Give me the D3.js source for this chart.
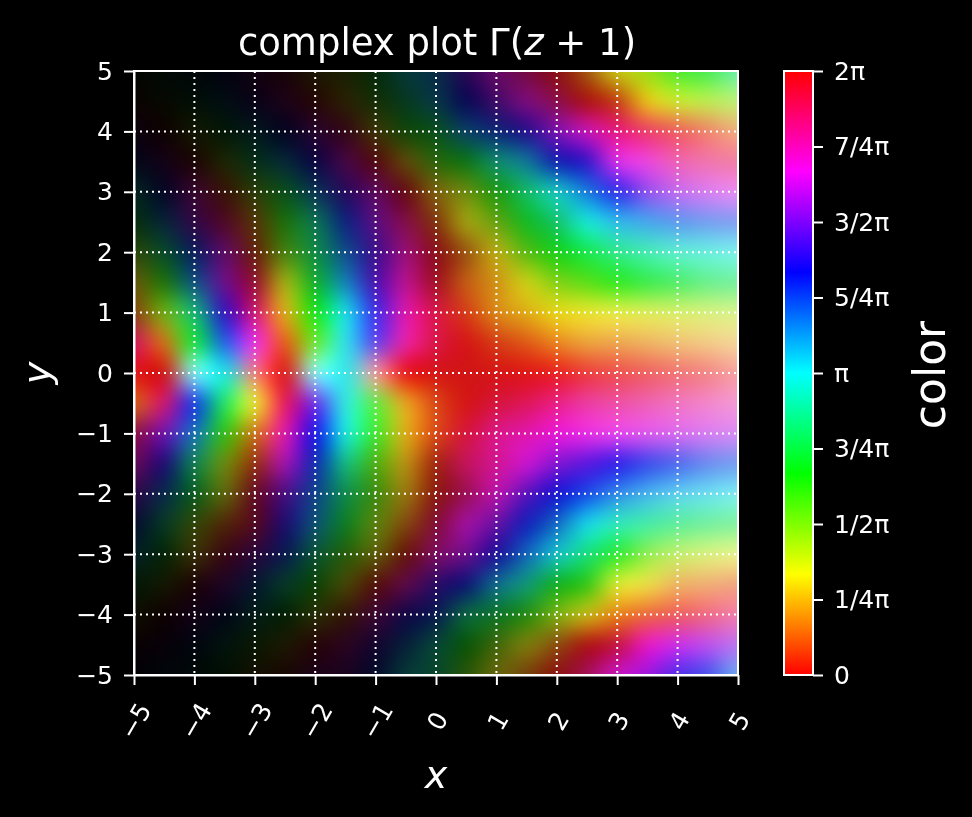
<!DOCTYPE html>
<html lang="en">
	<head>
		<meta charset="UTF-8">
		<title>complex plot</title>
		<style>
			html, body { margin: 0; background: #000; }
			#wrap { position: relative; width: 972px; height: 817px; overflow: hidden; }
			canvas, svg { position: absolute; left: 0; top: 0; }
			text { font-family: "DejaVu Sans", sans-serif; fill: #fff; }
		</style>
	</head>
	<body>
		<div id="wrap">
			<canvas id="field" width="972" height="817"></canvas>
			<svg id="svg" width="972" height="817"></svg>
		</div>

		<script src="https://d3js.org/d3.v7.min.js"></script>
		<script>
			// cell centres, one per half unit
			const xValues = [-5,-4.5,-4,-3.5,-3,-2.5,-2,-1.5,-1,-0.5,0,0.5,1,1.5,2,2.5,3,3.5,4,4.5,5]
			const yValues = [5,4.5,4,3.5,3,2.5,2,1.5,1,0.5,0,-0.5,-1,-1.5,-2,-2.5,-3,-3.5,-4,-4.5,-5]
			const axisTicks = [-5,-4,-3,-2,-1,0,1,2,3,4,5]

			// phase of each cell in degrees, top row first
			const hueRows = [
				[110,160,200,240,310,350,50,75,130,180,205,265,300,330,0,30,60,80,110,125,150],
				[15,75,135,200,260,310,5,45,100,150,195,240,275,300,330,0,15,50,70,78,85],
				[300,0,75,130,190,240,290,340,50,110,135,205,225,250,280,305,330,345,0,12,25],
				[230,290,5,75,145,200,245,300,355,45,100,125,165,195,235,250,295,305,325,332,340],
				[170,235,310,15,80,135,205,260,300,355,45,75,115,150,178,210,240,265,280,288,295],
				[130,205,280,335,35,110,160,228,280,330,20,60,85,125,150,175,195,205,215,220,225],
				[85,150,225,295,15,90,145,210,262,315,355,30,55,95,120,135,150,160,168,173,178],
				[50,110,205,285,345,65,130,200,262,315,352,25,40,62,85,100,115,125,130,135,140],
				[25,85,155,250,330,45,120,183,245,315,345,12,35,45,55,58,62,66,70,73,75],
				[335,30,130,220,300,20,100,183,250,320,345,0,12,20,30,35,33,35,37,38,40],
				[0,0,180,180,0,0,180,180,0,0,0,0,0,0,0,0,0,0,0,0,0],
				[25,330,230,140,60,340,260,177,110,40,15,0,348,340,330,325,327,325,323,322,320],
				[335,275,205,110,30,315,240,177,115,45,15,348,325,315,305,302,298,294,290,287,285],
				[310,250,155,75,15,295,230,160,98,45,8,335,320,298,275,260,245,235,230,225,220],
				[275,210,135,65,345,270,215,150,98,45,5,330,305,265,240,225,210,200,192,187,182],
				[230,155,80,25,342,250,200,132,80,30,340,300,275,235,210,185,165,155,145,140,135],
				[190,125,50,345,280,225,155,100,60,5,315,285,245,210,182,150,120,95,80,72,65],
				[130,70,355,285,215,160,115,60,5,315,260,235,195,165,125,110,65,55,35,28,20],
				[60,0,285,230,170,120,70,20,310,250,225,155,135,110,80,55,30,15,0,348,335],
				[345,285,225,160,100,50,355,315,260,210,165,120,85,60,30,0,345,310,290,282,275],
				[250,200,160,120,50,10,310,285,230,180,155,95,60,30,0,330,300,280,250,235,210]
			]

			// lightness of each cell in percent, same order
			const lightRows = [
				[1,2,2,3,4,5,6,7,9,12,15,18,22,25,30,35,43,48,55,60,68],
				[2,2,3,4,5,6,8,9,10,12,15,18,22,27,30,37,42,50,55,62,70],
				[3,3,5,5,6,7,10,11,13,15,17,22,25,30,38,43,50,58,65,68,72],
				[5,5,6,8,10,12,14,15,18,20,22,25,30,33,38,43,55,60,66,70,72],
				[8,8,12,12,13,17,18,20,20,22,27,30,33,40,43,48,55,62,68,72,75],
				[10,12,15,17,18,24,25,27,28,28,28,35,35,40,42,50,55,60,65,70,73],
				[15,16,20,22,22,28,30,30,30,33,30,33,40,40,45,50,55,60,65,68,72],
				[22,25,28,30,32,38,38,40,38,40,35,42,45,45,45,48,52,58,62,68,70],
				[30,38,40,42,45,48,50,50,55,48,47,46,47,48,50,55,60,64,68,72,75],
				[45,45,50,52,55,50,55,55,60,52,47,46,46,48,52,58,62,66,70,74,78],
				[48,45,72,50,72,48,74,55,78,50,46,45,46,48,52,58,62,66,70,74,80],
				[45,45,50,52,55,50,55,55,60,52,47,46,46,48,52,58,62,66,70,74,78],
				[30,38,40,42,45,48,50,50,55,48,47,46,47,48,50,55,60,64,68,72,75],
				[22,25,28,30,32,38,38,40,38,40,35,42,45,45,45,48,52,58,62,68,70],
				[15,16,20,22,22,28,30,30,30,33,30,33,40,40,45,50,55,60,65,68,72],
				[10,12,15,17,18,24,25,27,28,28,28,35,35,40,42,50,55,60,65,70,73],
				[8,8,12,12,13,17,18,20,20,22,27,30,33,40,43,48,55,62,68,72,75],
				[5,5,6,8,10,12,14,15,18,20,22,25,30,33,38,43,55,60,66,70,72],
				[3,3,5,5,6,7,10,11,13,15,17,22,25,30,38,43,50,58,65,68,72],
				[2,2,3,4,5,6,8,9,10,12,15,18,22,27,30,37,42,50,55,62,70],
				[1,2,2,3,4,5,6,7,9,12,15,18,22,25,30,35,43,48,55,60,68]
			]

			// colorbar
			const barHues = [0,60,120,180,240,300,360]
			const barTicks = [0,0.25,0.5,0.75,1,1.25,1.5,1.75,2]
			const barLabels = ['0','1/4π','1/2π','3/4π','π','5/4π','3/2π','7/4π','2π']

			const x = d3.scaleLinear().domain([-5, 5]).range([134, 738])
			const y = d3.scaleLinear().domain([-5, 5]).range([675, 71])
			const barY = d3.scaleLinear().domain([0, 2]).range([675, 71])
			const barHue = d3.scaleLinear().domain([0, 360]).range([0, 1])
			const half = (xValues[1] - xValues[0]) / 2

			// small bitmap with one pixel per cell, the browser smooths it when it is scaled up
			const small = document.createElement('canvas')
			small.width = xValues.length
			small.height = yValues.length
			const smallCtx = small.getContext('2d')
			const pixels = smallCtx.createImageData(small.width, small.height)
			yValues.forEach((_, j) => {
				xValues.forEach((_, i) => {
					const c = d3.rgb(d3.hsl(hueRows[j][i], 0.82, lightRows[j][i] / 100))
					const k = (j * small.width + i) * 4
					pixels.data[k] = c.r
					pixels.data[k + 1] = c.g
					pixels.data[k + 2] = c.b
					pixels.data[k + 3] = 255
				})
			})
			smallCtx.putImageData(pixels, 0, 0)

			const ctx = document.getElementById('field').getContext('2d')
			ctx.save()
			ctx.beginPath()
			ctx.rect(x(-5), y(5), x(5) - x(-5), y(-5) - y(5))
			ctx.clip()
			ctx.imageSmoothingEnabled = true
			ctx.imageSmoothingQuality = 'high'
			ctx.drawImage(small, x(-5 - half), y(5 + half), x(5 + half) - x(-5 - half), y(-5 - half) - y(5 + half))
			ctx.restore()

			const svg = d3.select('#svg')

			// grid
			svg.append('g').selectAll('line')
				.data(axisTicks)
				.enter()
				.append('line')
				.attr('x1', d => x(d))
				.attr('x2', d => x(d))
				.attr('y1', y(5))
				.attr('y2', y(-5))
				.attr('stroke', '#fff')
				.attr('stroke-width', 2)
				.attr('stroke-dasharray', '2 4')
			svg.append('g').selectAll('line')
				.data(axisTicks)
				.enter()
				.append('line')
				.attr('x1', x(-5))
				.attr('x2', x(5))
				.attr('y1', d => y(d))
				.attr('y2', d => y(d))
				.attr('stroke', '#fff')
				.attr('stroke-width', 2)
				.attr('stroke-dasharray', '2 4')

			// axes
			const xAxis = svg.append('g')
				.attr('transform', `translate(0,${y(-5)})`)
				.call(d3.axisBottom(x).tickValues(axisTicks).tickSize(10).tickSizeOuter(0))
			xAxis.selectAll('text')
				.attr('x', null)
				.attr('y', null)
				.attr('dy', '0.35em')
				.attr('text-anchor', 'middle')
				.attr('transform', 'translate(1,46) rotate(-60)')

			const yAxis = svg.append('g')
				.attr('transform', `translate(${x(-5)},0)`)
				.call(d3.axisLeft(y).tickValues(axisTicks).tickSize(10).tickSizeOuter(0))
			yAxis.selectAll('text').attr('x', -21)

			svg.append('rect')
				.attr('x', x(-5))
				.attr('y', y(5))
				.attr('width', x(5) - x(-5))
				.attr('height', y(-5) - y(5))
				.attr('fill', 'none')
				.attr('stroke', '#fff')
				.attr('stroke-width', 2)

			// colorbar
			const grad = svg.append('defs').append('linearGradient')
				.attr('id', 'hues')
				.attr('x1', 0).attr('x2', 0).attr('y1', 1).attr('y2', 0)
			grad.selectAll('stop')
				.data(barHues)
				.enter()
				.append('stop')
				.attr('offset', d => barHue(d))
				.attr('stop-color', d => d3.hsl(d, 1, 0.5))
			svg.append('rect')
				.attr('x', 784)
				.attr('y', barY(2))
				.attr('width', 29)
				.attr('height', barY(0) - barY(2))
				.attr('fill', 'url(#hues)')
				.attr('stroke', '#fff')
				.attr('stroke-width', 2)
			const barAxis = svg.append('g')
				.attr('transform', 'translate(813,0)')
				.call(d3.axisRight(barY).tickValues(barTicks).tickFormat((d, i) => barLabels[i]).tickSize(10).tickSizeOuter(0))
			barAxis.select('.domain').remove()
			barAxis.selectAll('text').attr('x', 21)

			svg.selectAll('.domain').attr('stroke', '#fff').attr('stroke-width', 2)
			svg.selectAll('.tick line').attr('stroke', '#fff').attr('stroke-width', 2)
			svg.selectAll('.tick text').attr('font-size', 25).attr('font-family', '"DejaVu Sans"').attr('fill', '#fff')

			// title and labels
			const title = svg.append('text')
				.attr('x', 437)
				.attr('y', 55)
				.attr('text-anchor', 'middle')
				.attr('font-size', 37)
			title.append('tspan').text('complex plot Γ(')
			title.append('tspan').attr('font-style', 'italic').text('z')
			title.append('tspan').text(' + 1)')

			svg.append('text')
				.attr('x', x(0))
				.attr('y', 788)
				.attr('text-anchor', 'middle')
				.attr('font-size', 38)
				.attr('font-style', 'italic')
				.text('x')
			svg.append('text')
				.attr('transform', `translate(50,${y(0)}) rotate(-90)`)
				.attr('text-anchor', 'middle')
				.attr('font-size', 38)
				.attr('font-style', 'italic')
				.text('y')
			svg.append('text')
				.attr('transform', `translate(945,${y(0) + 2}) rotate(-90)`)
				.attr('text-anchor', 'middle')
				.attr('font-size', 44)
				.text('color')
		</script>
	</body>
</html>
